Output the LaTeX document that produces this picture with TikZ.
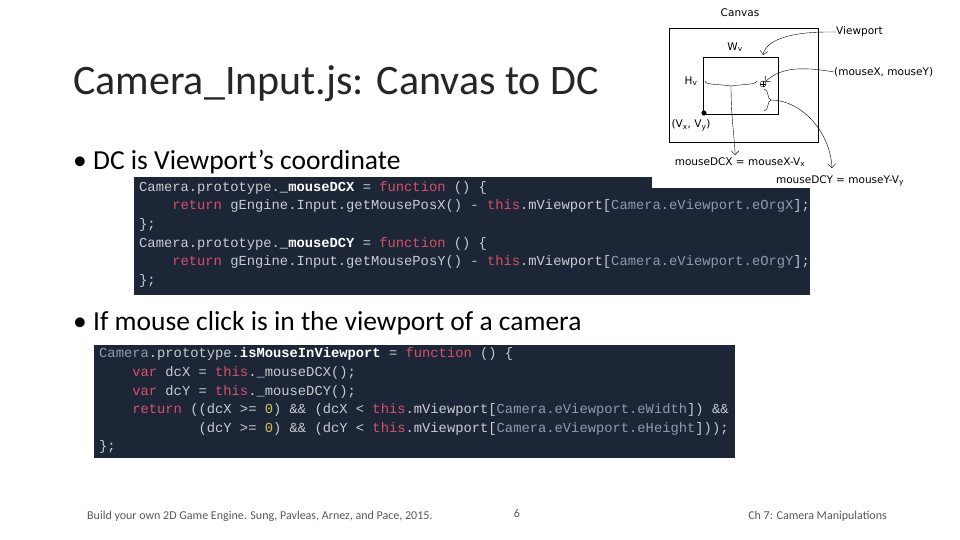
\documentclass[tikz,border=0pt]{standalone}
\usepackage{fontspec}
\setmainfont{Carlito}
\setmonofont{Liberation Mono}
\newfontfamily\diag{DejaVu Sans}
\usetikzlibrary{decorations.pathreplacing,arrows.meta}
\definecolor{codebg}{HTML}{1C2636}
\definecolor{codefg}{HTML}{C8CCD2}
\definecolor{kw}{HTML}{D8506A}
\definecolor{cls}{HTML}{8C9BB0}
\definecolor{num}{HTML}{D8C060}
\tikzset{
 code/.style={anchor=west,inner sep=0pt,font=\fontsize{13.8}{13.8}\selectfont\ttfamily,text=codefg},
 dlab/.style={inner sep=0pt,font=\diag\fontsize{10.5}{10.5}\selectfont},
 arr/.style={-{Straight Barb[length=4pt]},thin},
 bullet/.style={anchor=west,inner sep=0pt,font=\fontsize{27.5}{27.5}\selectfont}
}
\newcommand{\kwd}[1]{\textcolor{kw}{#1}}
\newcommand{\cl}[1]{\textcolor{cls}{#1}}
\newcommand{\bw}[1]{\textcolor{white}{\bfseries #1}}
\begin{document}
\begin{tikzpicture}[x=1pt,y=-1pt]
\useasboundingbox (0,0) rectangle (960,540);
\fill[white] (0,0) rectangle (960,540);
\node[anchor=base west,inner sep=0pt,font=\fontsize{42}{42}\selectfont,text=black!85] (title) at (73,95) {Camera\_Input.js: Canvas to DC};
\node[bullet] (b1) at (73,162) {\textbullet\ DC is Viewport’s coordinate};
\node[bullet] (b2) at (73,323) {\textbullet\ If mouse click is in the viewport of a camera};
% code 1
\fill[codebg] (134,177) rectangle (810,295);
\node[code] (c1) at (139,188) {Camera.prototype.\bw{\_mouseDCX} = \kwd{function} () \{};
\node[code] (c2) at (139,206) {\ \ \ \ \kwd{return} gEngine.Input.getMousePosX() - \kwd{this}.mViewport[\cl{Camera.eViewport.eOrgX}];};
\node[code] (c3) at (139,225) {\};};
\node[code] (c4) at (139,244) {Camera.prototype.\bw{\_mouseDCY} = \kwd{function} () \{};
\node[code] (c5) at (139,262) {\ \ \ \ \kwd{return} gEngine.Input.getMousePosY() - \kwd{this}.mViewport[\cl{Camera.eViewport.eOrgY}];};
\node[code] (c6) at (139,281) {\};};
% code 2
\fill[codebg] (94,345) rectangle (735,458);
\node[code] (d1) at (99,354) {\cl{Camera}.prototype.\bw{isMouseInViewport} = \kwd{function} () \{};
\node[code] (d2) at (99,373) {\ \ \ \ \kwd{var} dcX = \kwd{this}.\_mouseDCX();};
\node[code] (d3) at (99,392) {\ \ \ \ \kwd{var} dcY = \kwd{this}.\_mouseDCY();};
\node[code] (d4) at (99,410) {\ \ \ \ \kwd{return} ((dcX >= \textcolor{num}{0}) \&\& (dcX < \kwd{this}.mViewport[\cl{Camera.eViewport.eWidth}]) \&\&};
\node[code] (d5) at (99,429) {\ \ \ \ \ \ \ \ \ \ \ \ (dcY >= \textcolor{num}{0}) \&\& (dcY < \kwd{this}.mViewport[\cl{Camera.eViewport.eHeight}]));};
\node[code] (d6) at (99,447) {\};};
% diagram
\fill[white] (652,0) rectangle (945,188);
\node[dlab] (canvas) at (740,13) {Canvas};
\draw[thick] (669,28) rectangle (818,142);
\draw[thin] (703,57) rectangle (778,114);
\node[dlab] (wv) at (735,47) {W\textsubscript{v}};
\node[dlab] (hv) at (691,81) {H\textsubscript{v}};
\node[dlab,anchor=west] (vp) at (836,32) {Viewport};
\node[dlab,anchor=west] (mxy) at (834,72) {(mouseX, mouseY)};
\node[dlab] (vxy) at (691,125) {(V\textsubscript{x}, V\textsubscript{y})};
\node[dlab] (dcx) at (740,162) {mouseDCX = mouseX-V\textsubscript{x}};
\node[dlab] (dcy) at (840,181) {mouseDCY = mouseY-V\textsubscript{y}};
\fill (704,113) circle (2.6);
\node[draw,circle,inner sep=0pt,minimum size=6pt,thin] (mp) at (763,84) {};
\draw[thin] (mp.north)--(mp.south) (mp.west)--(mp.east);
\draw[thin] (705,81) .. controls (705,85) and (718,84) .. (731,86) .. controls (744,84) and (755,85) .. (757,81);
\coordinate (bx) at (731,86);
\draw[thin] (764,89) .. controls (769,89) and (767,100) .. (771,100) .. controls (767,100) and (769,111) .. (764,111);
\coordinate (by) at (771,100);
\draw[arr] (vp.west) -- (828,32) .. controls (790,32) and (766,40) .. (763,55);
\draw[arr] (mxy.west) .. controls (800,66) and (780,68) .. (mp.north east);
\draw[arr] (bx) .. controls (731,120) and (735,140) .. (735,155);
\draw[arr] (by) .. controls (800,100) and (830,130) .. (832,168);
% footer
\node[anchor=base west,inner sep=0pt,font=\fontsize{12}{12}\selectfont,text=black!65] (f1) at (87,519) {Build your own 2D Game Engine. Sung, Pavleas, Arnez, and Pace, 2015.};
\node[anchor=base,inner sep=0pt,font=\fontsize{12}{12}\selectfont,text=black!65] (f2) at (517,517) {6};
\node[anchor=base east,inner sep=0pt,font=\fontsize{12}{12}\selectfont,text=black!65] (f3) at (887,519) {Ch 7: Camera Manipulations};
\end{tikzpicture}
\end{document}
